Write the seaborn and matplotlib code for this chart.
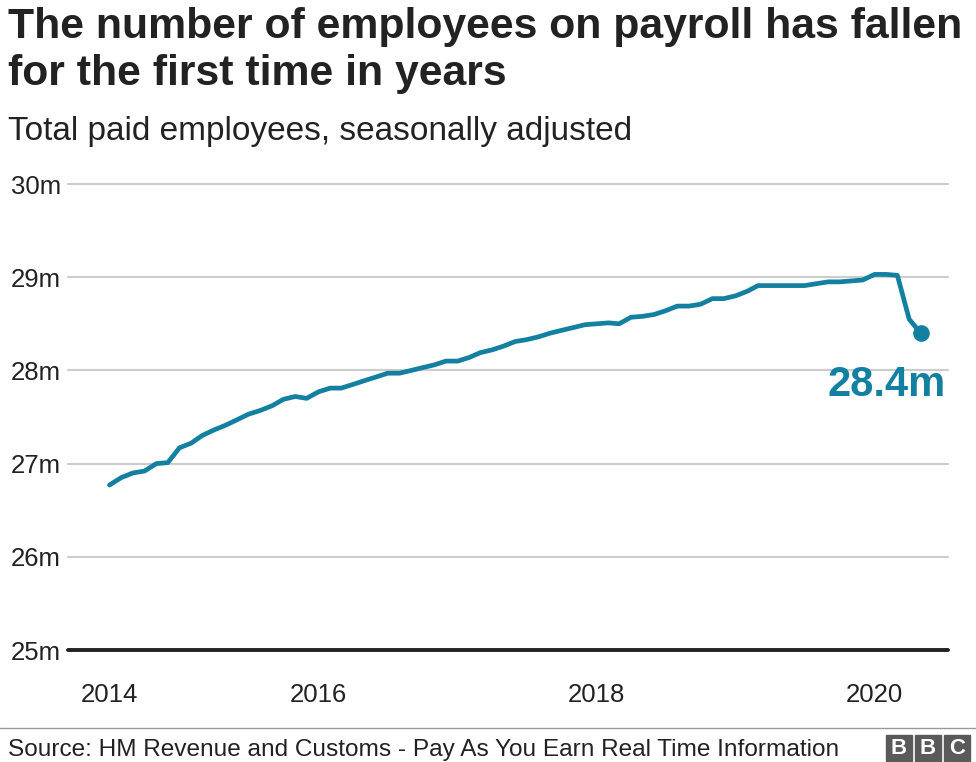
import pandas as pd
import matplotlib.pyplot as plt
import matplotlib.patches as mpatches
import seaborn as sns

# Total paid employees (millions), monthly, seasonally adjusted - Jul 2014 to May 2020
start_month = "2014-07"
employees_m = [
    26.77, 26.85, 26.90, 26.92, 27.00, 27.01, 27.17, 27.22, 27.30, 27.36,
    27.41, 27.47, 27.53, 27.57, 27.62, 27.69, 27.72, 27.70, 27.77, 27.81,
    27.81, 27.85, 27.89, 27.93, 27.97, 27.97, 28.00, 28.03, 28.06, 28.10,
    28.10, 28.14, 28.19, 28.22, 28.26, 28.31, 28.33, 28.36, 28.40, 28.43,
    28.46, 28.49, 28.50, 28.51, 28.50, 28.57, 28.58, 28.60, 28.64, 28.69,
    28.69, 28.71, 28.77, 28.77, 28.80, 28.85, 28.91, 28.91, 28.91, 28.91,
    28.91, 28.93, 28.95, 28.95, 28.96, 28.97, 29.03, 29.03, 29.02, 28.55,
    28.40,
]
y_ticks = [25, 26, 27, 28, 29, 30]
y_labels = ["25m", "26m", "27m", "28m", "29m", "30m"]
x_tick_dates = ["2014-07-01", "2016-01-01", "2018-01-01", "2020-01-01"]
x_tick_labels = ["2014", "2016", "2018", "2020"]
last_label = "28.4m"

dates = pd.date_range(start_month, periods=len(employees_m), freq="MS")
df = pd.DataFrame({"date": dates, "employees": employees_m})

sns.set_style("white")
plt.rcParams["font.family"] = ["Liberation Sans", "DejaVu Sans"]

teal = "#1380a1"
W, H = 976, 762
fig = plt.figure(figsize=(W / 100, H / 100), dpi=100)
ax = fig.add_axes([68 / W, 1 - 650 / H, (948 - 68) / W, (650 - 184) / H])

sns.lineplot(data=df, x="date", y="employees", ax=ax, color=teal, linewidth=3.4,
             zorder=3)
ax.scatter(df["date"].iloc[-1], df["employees"].iloc[-1], s=120, color=teal, zorder=4)
ax.annotate(last_label, (df["date"].iloc[-1], df["employees"].iloc[-1]),
            xytext=(18, -37), textcoords="offset points", ha="right", va="center",
            fontsize=30, fontweight="bold", color=teal)

ax.set_ylim(25, 30)
ax.set_xlim(pd.Timestamp("2014-03-14"), pd.Timestamp("2020-07-12"))
ax.set_yticks(y_ticks)
ax.set_yticklabels(y_labels)
ax.set_xticks(pd.to_datetime(x_tick_dates))
ax.set_xticklabels(x_tick_labels)
ax.tick_params(axis="y", length=0, pad=5, labelsize=18.5, labelcolor="#222222")
ax.tick_params(axis="x", length=0, pad=24, labelsize=18.5, labelcolor="#222222")
ax.set_xlabel("")
ax.set_ylabel("")
for s in ax.spines.values():
    s.set_visible(False)
for t in y_ticks[1:]:
    ax.axhline(t, color="#cccccc", linewidth=1.5, zorder=1, clip_on=False)
ax.axhline(25, color="#222222", linewidth=2.8, zorder=2, clip_on=False)

fig.text(8 / W, 1 - 38 / H, "The number of employees on payroll has fallen",
         fontsize=30.8, fontweight="bold", color="#222222", va="baseline")
fig.text(8 / W, 1 - 85 / H, "for the first time in years",
         fontsize=30.8, fontweight="bold", color="#222222", va="baseline")
fig.text(8 / W, 1 - 140 / H, "Total paid employees, seasonally adjusted",
         fontsize=24, color="#222222", va="baseline")

fig.add_artist(plt.Line2D([0, 1], [1 - 728 / H, 1 - 728 / H], color="#999999",
                          linewidth=1, transform=fig.transFigure))
fig.text(8 / W, 1 - 756 / H,
         "Source: HM Revenue and Customs - Pay As You Earn Real Time Information",
         fontsize=17.6, color="#222222", va="baseline")
for i, letter in enumerate("BBC"):
    x0 = 886 + i * 29
    fig.add_artist(mpatches.Rectangle((x0 / W, 1 - 761 / H), 26 / W, 26 / H,
                                      color="#5a5a5a", transform=fig.transFigure))
    fig.text((x0 + 13) / W, 1 - 748 / H, letter, fontsize=16, fontweight="bold",
             color="white", ha="center", va="center")

fig.savefig("out.png", dpi=100)
